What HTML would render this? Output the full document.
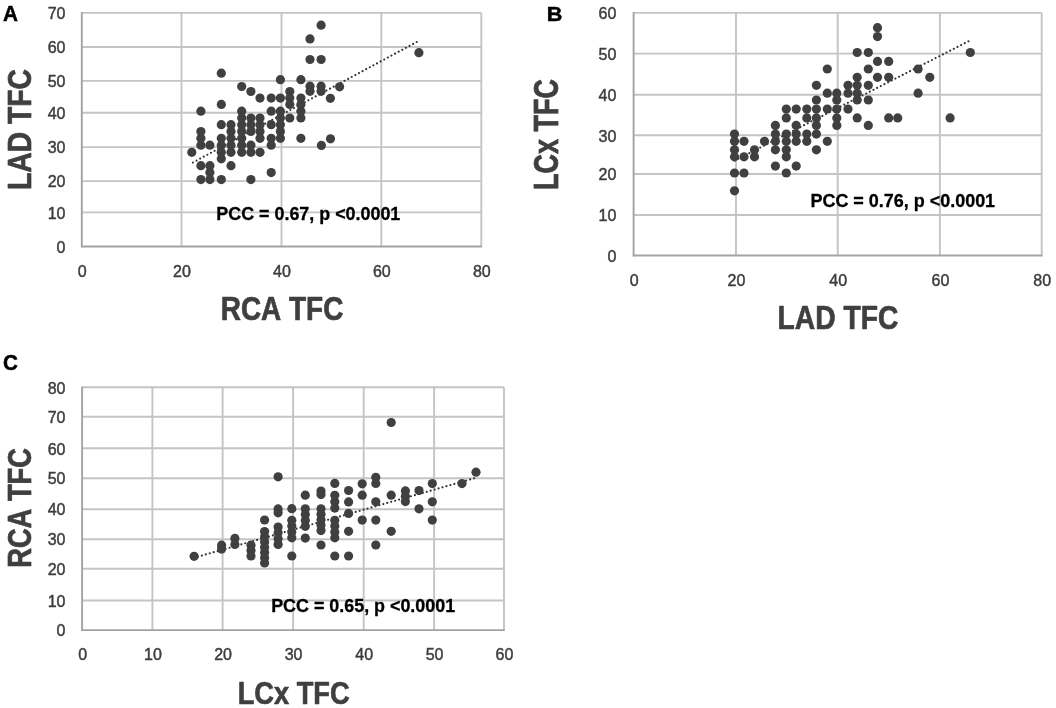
<!DOCTYPE html>
<html><head><meta charset="utf-8"><title>TFC correlations</title>
<style>html,body{margin:0;padding:0;background:#fff;width:1056px;height:708px;overflow:hidden;}
svg text{font-family:"Liberation Sans", sans-serif;font-kerning:none;}</style></head>
<body>
<svg width="1056" height="708" viewBox="0 0 1056 708" style="position:absolute;left:0;top:0;will-change:transform;">
<rect width="1056" height="708" fill="#ffffff"/>
<line x1="181.50" y1="12.90" x2="181.50" y2="246.50" stroke="#c4c4c4" stroke-width="1.9"/>
<line x1="281.50" y1="12.90" x2="281.50" y2="246.50" stroke="#c4c4c4" stroke-width="1.9"/>
<line x1="381.30" y1="12.90" x2="381.30" y2="246.50" stroke="#c4c4c4" stroke-width="1.9"/>
<line x1="481.30" y1="12.90" x2="481.30" y2="246.50" stroke="#c4c4c4" stroke-width="1.9"/>
<line x1="81.80" y1="212.40" x2="481.30" y2="212.40" stroke="#c4c4c4" stroke-width="1.9"/>
<line x1="81.80" y1="181.10" x2="481.30" y2="181.10" stroke="#c4c4c4" stroke-width="1.9"/>
<line x1="81.80" y1="147.10" x2="481.30" y2="147.10" stroke="#c4c4c4" stroke-width="1.9"/>
<line x1="81.80" y1="112.70" x2="481.30" y2="112.70" stroke="#c4c4c4" stroke-width="1.9"/>
<line x1="81.80" y1="80.90" x2="481.30" y2="80.90" stroke="#c4c4c4" stroke-width="1.9"/>
<line x1="81.80" y1="47.00" x2="481.30" y2="47.00" stroke="#c4c4c4" stroke-width="1.9"/>
<line x1="81.80" y1="12.90" x2="481.30" y2="12.90" stroke="#c4c4c4" stroke-width="1.9"/>
<line x1="81.80" y1="12.10" x2="81.80" y2="247.30" stroke="#a3a3a3" stroke-width="1.9"/>
<line x1="81.00" y1="246.50" x2="482.10" y2="246.50" stroke="#a3a3a3" stroke-width="1.9"/>
<text x="65.50" y="252.70" font-size="16" fill="#3d3d3d" stroke="#3d3d3d" stroke-width="0.45" text-anchor="end">0</text>
<text x="65.50" y="218.60" font-size="16" fill="#3d3d3d" stroke="#3d3d3d" stroke-width="0.45" text-anchor="end">10</text>
<text x="65.50" y="187.30" font-size="16" fill="#3d3d3d" stroke="#3d3d3d" stroke-width="0.45" text-anchor="end">20</text>
<text x="65.50" y="153.30" font-size="16" fill="#3d3d3d" stroke="#3d3d3d" stroke-width="0.45" text-anchor="end">30</text>
<text x="65.50" y="118.90" font-size="16" fill="#3d3d3d" stroke="#3d3d3d" stroke-width="0.45" text-anchor="end">40</text>
<text x="65.50" y="87.10" font-size="16" fill="#3d3d3d" stroke="#3d3d3d" stroke-width="0.45" text-anchor="end">50</text>
<text x="65.50" y="53.20" font-size="16" fill="#3d3d3d" stroke="#3d3d3d" stroke-width="0.45" text-anchor="end">60</text>
<text x="65.50" y="19.10" font-size="16" fill="#3d3d3d" stroke="#3d3d3d" stroke-width="0.45" text-anchor="end">70</text>
<text x="82.30" y="276.70" font-size="16" fill="#3d3d3d" stroke="#3d3d3d" stroke-width="0.45" text-anchor="middle">0</text>
<text x="182.00" y="276.70" font-size="16" fill="#3d3d3d" stroke="#3d3d3d" stroke-width="0.45" text-anchor="middle">20</text>
<text x="282.00" y="276.70" font-size="16" fill="#3d3d3d" stroke="#3d3d3d" stroke-width="0.45" text-anchor="middle">40</text>
<text x="381.80" y="276.70" font-size="16" fill="#3d3d3d" stroke="#3d3d3d" stroke-width="0.45" text-anchor="middle">60</text>
<text x="481.80" y="276.70" font-size="16" fill="#3d3d3d" stroke="#3d3d3d" stroke-width="0.45" text-anchor="middle">80</text>
<line x1="192.9" y1="162.5" x2="417.1" y2="41.8" stroke="#333333" stroke-width="2.2" stroke-linecap="round" stroke-dasharray="0 4.1"/>
<g fill="#404040"><circle cx="191.8" cy="152.3" r="4.6"/><circle cx="200.9" cy="111.2" r="4.6"/><circle cx="200.9" cy="131.5" r="4.6"/><circle cx="200.9" cy="138.3" r="4.6"/><circle cx="200.9" cy="145.2" r="4.6"/><circle cx="200.9" cy="165.7" r="4.6"/><circle cx="200.9" cy="179.6" r="4.6"/><circle cx="209.9" cy="145.2" r="4.6"/><circle cx="209.9" cy="165.7" r="4.6"/><circle cx="209.9" cy="172.6" r="4.6"/><circle cx="209.9" cy="179.6" r="4.6"/><circle cx="221.3" cy="73.2" r="4.6"/><circle cx="221.3" cy="104.4" r="4.6"/><circle cx="221.3" cy="124.7" r="4.6"/><circle cx="221.3" cy="138.3" r="4.6"/><circle cx="221.3" cy="145.2" r="4.6"/><circle cx="221.3" cy="152.3" r="4.6"/><circle cx="221.3" cy="158.8" r="4.6"/><circle cx="221.3" cy="179.6" r="4.6"/><circle cx="231.0" cy="124.7" r="4.6"/><circle cx="231.0" cy="131.5" r="4.6"/><circle cx="231.0" cy="138.3" r="4.6"/><circle cx="231.0" cy="145.2" r="4.6"/><circle cx="231.0" cy="152.3" r="4.6"/><circle cx="231.0" cy="165.7" r="4.6"/><circle cx="241.7" cy="86.5" r="4.6"/><circle cx="241.7" cy="111.2" r="4.6"/><circle cx="241.7" cy="118.0" r="4.6"/><circle cx="241.7" cy="124.7" r="4.6"/><circle cx="241.7" cy="131.5" r="4.6"/><circle cx="241.7" cy="138.3" r="4.6"/><circle cx="241.7" cy="145.2" r="4.6"/><circle cx="241.7" cy="152.3" r="4.6"/><circle cx="250.9" cy="91.5" r="4.6"/><circle cx="250.9" cy="118.0" r="4.6"/><circle cx="250.9" cy="124.7" r="4.6"/><circle cx="250.9" cy="131.5" r="4.6"/><circle cx="250.9" cy="145.2" r="4.6"/><circle cx="250.9" cy="152.3" r="4.6"/><circle cx="250.9" cy="179.6" r="4.6"/><circle cx="260.0" cy="98.1" r="4.6"/><circle cx="260.0" cy="118.0" r="4.6"/><circle cx="260.0" cy="124.7" r="4.6"/><circle cx="260.0" cy="131.5" r="4.6"/><circle cx="260.0" cy="138.3" r="4.6"/><circle cx="260.0" cy="152.3" r="4.6"/><circle cx="271.2" cy="98.1" r="4.6"/><circle cx="271.2" cy="111.2" r="4.6"/><circle cx="271.2" cy="124.7" r="4.6"/><circle cx="271.2" cy="138.3" r="4.6"/><circle cx="271.2" cy="145.2" r="4.6"/><circle cx="271.2" cy="172.6" r="4.6"/><circle cx="280.4" cy="79.7" r="4.6"/><circle cx="280.4" cy="98.1" r="4.6"/><circle cx="280.4" cy="111.2" r="4.6"/><circle cx="280.4" cy="118.0" r="4.6"/><circle cx="280.4" cy="124.7" r="4.6"/><circle cx="280.4" cy="131.5" r="4.6"/><circle cx="280.4" cy="138.3" r="4.6"/><circle cx="289.8" cy="91.5" r="4.6"/><circle cx="289.8" cy="98.1" r="4.6"/><circle cx="289.8" cy="104.4" r="4.6"/><circle cx="289.8" cy="118.0" r="4.6"/><circle cx="300.9" cy="79.7" r="4.6"/><circle cx="300.9" cy="98.1" r="4.6"/><circle cx="300.9" cy="104.4" r="4.6"/><circle cx="300.9" cy="111.2" r="4.6"/><circle cx="300.9" cy="118.0" r="4.6"/><circle cx="300.9" cy="138.3" r="4.6"/><circle cx="310.0" cy="86.2" r="4.6"/><circle cx="310.0" cy="91.3" r="4.6"/><circle cx="310.0" cy="59.5" r="4.6"/><circle cx="310.0" cy="38.9" r="4.6"/><circle cx="321.1" cy="86.2" r="4.6"/><circle cx="321.1" cy="91.3" r="4.6"/><circle cx="321.1" cy="59.5" r="4.6"/><circle cx="321.1" cy="25.2" r="4.6"/><circle cx="321.4" cy="145.4" r="4.6"/><circle cx="330.4" cy="98.3" r="4.6"/><circle cx="330.5" cy="138.8" r="4.6"/><circle cx="339.6" cy="86.8" r="4.6"/><circle cx="418.9" cy="52.7" r="4.6"/></g>
<line x1="736.00" y1="12.90" x2="736.00" y2="255.50" stroke="#c4c4c4" stroke-width="1.9"/>
<line x1="837.70" y1="12.90" x2="837.70" y2="255.50" stroke="#c4c4c4" stroke-width="1.9"/>
<line x1="939.90" y1="12.90" x2="939.90" y2="255.50" stroke="#c4c4c4" stroke-width="1.9"/>
<line x1="1041.70" y1="12.90" x2="1041.70" y2="255.50" stroke="#c4c4c4" stroke-width="1.9"/>
<line x1="633.60" y1="215.00" x2="1041.70" y2="215.00" stroke="#c4c4c4" stroke-width="1.9"/>
<line x1="633.60" y1="174.00" x2="1041.70" y2="174.00" stroke="#c4c4c4" stroke-width="1.9"/>
<line x1="633.60" y1="135.30" x2="1041.70" y2="135.30" stroke="#c4c4c4" stroke-width="1.9"/>
<line x1="633.60" y1="94.70" x2="1041.70" y2="94.70" stroke="#c4c4c4" stroke-width="1.9"/>
<line x1="633.60" y1="53.60" x2="1041.70" y2="53.60" stroke="#c4c4c4" stroke-width="1.9"/>
<line x1="633.60" y1="12.90" x2="1041.70" y2="12.90" stroke="#c4c4c4" stroke-width="1.9"/>
<line x1="633.60" y1="12.10" x2="633.60" y2="256.30" stroke="#a3a3a3" stroke-width="1.9"/>
<line x1="632.80" y1="255.50" x2="1042.50" y2="255.50" stroke="#a3a3a3" stroke-width="1.9"/>
<text x="616.30" y="261.70" font-size="16" fill="#3d3d3d" stroke="#3d3d3d" stroke-width="0.45" text-anchor="end">0</text>
<text x="616.30" y="221.20" font-size="16" fill="#3d3d3d" stroke="#3d3d3d" stroke-width="0.45" text-anchor="end">10</text>
<text x="616.30" y="180.20" font-size="16" fill="#3d3d3d" stroke="#3d3d3d" stroke-width="0.45" text-anchor="end">20</text>
<text x="616.30" y="141.50" font-size="16" fill="#3d3d3d" stroke="#3d3d3d" stroke-width="0.45" text-anchor="end">30</text>
<text x="616.30" y="100.90" font-size="16" fill="#3d3d3d" stroke="#3d3d3d" stroke-width="0.45" text-anchor="end">40</text>
<text x="616.30" y="59.80" font-size="16" fill="#3d3d3d" stroke="#3d3d3d" stroke-width="0.45" text-anchor="end">50</text>
<text x="616.30" y="19.10" font-size="16" fill="#3d3d3d" stroke="#3d3d3d" stroke-width="0.45" text-anchor="end">60</text>
<text x="634.10" y="285.60" font-size="16" fill="#3d3d3d" stroke="#3d3d3d" stroke-width="0.45" text-anchor="middle">0</text>
<text x="736.50" y="285.60" font-size="16" fill="#3d3d3d" stroke="#3d3d3d" stroke-width="0.45" text-anchor="middle">20</text>
<text x="838.20" y="285.60" font-size="16" fill="#3d3d3d" stroke="#3d3d3d" stroke-width="0.45" text-anchor="middle">40</text>
<text x="940.40" y="285.60" font-size="16" fill="#3d3d3d" stroke="#3d3d3d" stroke-width="0.45" text-anchor="middle">60</text>
<text x="1042.20" y="285.60" font-size="16" fill="#3d3d3d" stroke="#3d3d3d" stroke-width="0.45" text-anchor="middle">80</text>
<line x1="734.7" y1="160.6" x2="970.7" y2="40.2" stroke="#333333" stroke-width="2.2" stroke-linecap="round" stroke-dasharray="0 4.1"/>
<g fill="#404040"><circle cx="734.5" cy="134.1" r="4.6"/><circle cx="734.5" cy="141.3" r="4.6"/><circle cx="734.5" cy="149.8" r="4.6"/><circle cx="734.5" cy="156.8" r="4.6"/><circle cx="734.5" cy="173.0" r="4.6"/><circle cx="734.5" cy="190.8" r="4.6"/><circle cx="744.0" cy="141.3" r="4.6"/><circle cx="744.0" cy="156.8" r="4.6"/><circle cx="744.0" cy="173.0" r="4.6"/><circle cx="754.5" cy="149.8" r="4.6"/><circle cx="754.5" cy="156.8" r="4.6"/><circle cx="764.5" cy="141.3" r="4.6"/><circle cx="775.4" cy="125.4" r="4.6"/><circle cx="775.4" cy="134.1" r="4.6"/><circle cx="775.4" cy="141.3" r="4.6"/><circle cx="775.4" cy="149.8" r="4.6"/><circle cx="775.4" cy="166.1" r="4.6"/><circle cx="786.3" cy="109.1" r="4.6"/><circle cx="786.3" cy="117.9" r="4.6"/><circle cx="786.3" cy="134.1" r="4.6"/><circle cx="786.3" cy="141.3" r="4.6"/><circle cx="786.3" cy="149.8" r="4.6"/><circle cx="786.3" cy="156.8" r="4.6"/><circle cx="786.3" cy="173.0" r="4.6"/><circle cx="796.2" cy="109.1" r="4.6"/><circle cx="796.2" cy="125.4" r="4.6"/><circle cx="796.2" cy="134.1" r="4.6"/><circle cx="796.2" cy="141.3" r="4.6"/><circle cx="796.2" cy="166.1" r="4.6"/><circle cx="806.8" cy="109.1" r="4.6"/><circle cx="806.8" cy="117.9" r="4.6"/><circle cx="806.8" cy="134.1" r="4.6"/><circle cx="806.8" cy="141.3" r="4.6"/><circle cx="816.4" cy="85.3" r="4.6"/><circle cx="816.4" cy="100.0" r="4.6"/><circle cx="816.4" cy="109.1" r="4.6"/><circle cx="816.4" cy="117.9" r="4.6"/><circle cx="816.4" cy="125.4" r="4.6"/><circle cx="816.4" cy="134.1" r="4.6"/><circle cx="816.4" cy="149.8" r="4.6"/><circle cx="827.3" cy="69.0" r="4.6"/><circle cx="827.3" cy="93.2" r="4.6"/><circle cx="827.3" cy="109.1" r="4.6"/><circle cx="827.3" cy="141.3" r="4.6"/><circle cx="836.8" cy="93.2" r="4.6"/><circle cx="836.8" cy="100.0" r="4.6"/><circle cx="836.8" cy="109.1" r="4.6"/><circle cx="836.8" cy="117.9" r="4.6"/><circle cx="836.8" cy="125.4" r="4.6"/><circle cx="848.0" cy="85.3" r="4.6"/><circle cx="848.0" cy="93.2" r="4.6"/><circle cx="848.0" cy="109.1" r="4.6"/><circle cx="857.2" cy="52.5" r="4.6"/><circle cx="857.2" cy="77.3" r="4.6"/><circle cx="857.2" cy="85.3" r="4.6"/><circle cx="857.2" cy="93.2" r="4.6"/><circle cx="857.2" cy="100.0" r="4.6"/><circle cx="857.2" cy="117.9" r="4.6"/><circle cx="868.3" cy="52.5" r="4.6"/><circle cx="868.3" cy="69.0" r="4.6"/><circle cx="868.3" cy="85.3" r="4.6"/><circle cx="868.3" cy="100.0" r="4.6"/><circle cx="868.3" cy="125.4" r="4.6"/><circle cx="877.5" cy="27.7" r="4.6"/><circle cx="877.5" cy="36.6" r="4.6"/><circle cx="877.5" cy="61.4" r="4.6"/><circle cx="877.5" cy="77.3" r="4.6"/><circle cx="888.7" cy="61.4" r="4.6"/><circle cx="888.7" cy="77.3" r="4.6"/><circle cx="888.7" cy="117.9" r="4.6"/><circle cx="897.7" cy="117.9" r="4.6"/><circle cx="918.1" cy="69.0" r="4.6"/><circle cx="918.1" cy="93.2" r="4.6"/><circle cx="929.8" cy="77.3" r="4.6"/><circle cx="950.1" cy="117.9" r="4.6"/><circle cx="970.3" cy="52.5" r="4.6"/></g>
<line x1="152.40" y1="387.30" x2="152.40" y2="630.10" stroke="#c4c4c4" stroke-width="1.9"/>
<line x1="222.60" y1="387.30" x2="222.60" y2="630.10" stroke="#c4c4c4" stroke-width="1.9"/>
<line x1="293.10" y1="387.30" x2="293.10" y2="630.10" stroke="#c4c4c4" stroke-width="1.9"/>
<line x1="363.70" y1="387.30" x2="363.70" y2="630.10" stroke="#c4c4c4" stroke-width="1.9"/>
<line x1="434.10" y1="387.30" x2="434.10" y2="630.10" stroke="#c4c4c4" stroke-width="1.9"/>
<line x1="504.00" y1="387.30" x2="504.00" y2="630.10" stroke="#c4c4c4" stroke-width="1.9"/>
<line x1="82.10" y1="600.50" x2="504.00" y2="600.50" stroke="#c4c4c4" stroke-width="1.9"/>
<line x1="82.10" y1="568.80" x2="504.00" y2="568.80" stroke="#c4c4c4" stroke-width="1.9"/>
<line x1="82.10" y1="539.20" x2="504.00" y2="539.20" stroke="#c4c4c4" stroke-width="1.9"/>
<line x1="82.10" y1="509.20" x2="504.00" y2="509.20" stroke="#c4c4c4" stroke-width="1.9"/>
<line x1="82.10" y1="478.20" x2="504.00" y2="478.20" stroke="#c4c4c4" stroke-width="1.9"/>
<line x1="82.10" y1="448.30" x2="504.00" y2="448.30" stroke="#c4c4c4" stroke-width="1.9"/>
<line x1="82.10" y1="416.70" x2="504.00" y2="416.70" stroke="#c4c4c4" stroke-width="1.9"/>
<line x1="82.10" y1="387.30" x2="504.00" y2="387.30" stroke="#c4c4c4" stroke-width="1.9"/>
<line x1="82.10" y1="386.50" x2="82.10" y2="630.90" stroke="#a3a3a3" stroke-width="1.9"/>
<line x1="81.30" y1="630.10" x2="504.80" y2="630.10" stroke="#a3a3a3" stroke-width="1.9"/>
<text x="65.50" y="636.30" font-size="16" fill="#3d3d3d" stroke="#3d3d3d" stroke-width="0.45" text-anchor="end">0</text>
<text x="65.50" y="606.70" font-size="16" fill="#3d3d3d" stroke="#3d3d3d" stroke-width="0.45" text-anchor="end">10</text>
<text x="65.50" y="575.00" font-size="16" fill="#3d3d3d" stroke="#3d3d3d" stroke-width="0.45" text-anchor="end">20</text>
<text x="65.50" y="545.40" font-size="16" fill="#3d3d3d" stroke="#3d3d3d" stroke-width="0.45" text-anchor="end">30</text>
<text x="65.50" y="515.40" font-size="16" fill="#3d3d3d" stroke="#3d3d3d" stroke-width="0.45" text-anchor="end">40</text>
<text x="65.50" y="484.40" font-size="16" fill="#3d3d3d" stroke="#3d3d3d" stroke-width="0.45" text-anchor="end">50</text>
<text x="65.50" y="454.50" font-size="16" fill="#3d3d3d" stroke="#3d3d3d" stroke-width="0.45" text-anchor="end">60</text>
<text x="65.50" y="422.90" font-size="16" fill="#3d3d3d" stroke="#3d3d3d" stroke-width="0.45" text-anchor="end">70</text>
<text x="65.50" y="393.50" font-size="16" fill="#3d3d3d" stroke="#3d3d3d" stroke-width="0.45" text-anchor="end">80</text>
<text x="82.60" y="659.60" font-size="16" fill="#3d3d3d" stroke="#3d3d3d" stroke-width="0.45" text-anchor="middle">0</text>
<text x="152.90" y="659.60" font-size="16" fill="#3d3d3d" stroke="#3d3d3d" stroke-width="0.45" text-anchor="middle">10</text>
<text x="223.10" y="659.60" font-size="16" fill="#3d3d3d" stroke="#3d3d3d" stroke-width="0.45" text-anchor="middle">20</text>
<text x="293.60" y="659.60" font-size="16" fill="#3d3d3d" stroke="#3d3d3d" stroke-width="0.45" text-anchor="middle">30</text>
<text x="364.20" y="659.60" font-size="16" fill="#3d3d3d" stroke="#3d3d3d" stroke-width="0.45" text-anchor="middle">40</text>
<text x="434.60" y="659.60" font-size="16" fill="#3d3d3d" stroke="#3d3d3d" stroke-width="0.45" text-anchor="middle">50</text>
<text x="504.50" y="659.60" font-size="16" fill="#3d3d3d" stroke="#3d3d3d" stroke-width="0.45" text-anchor="middle">60</text>
<line x1="194.0" y1="557.8" x2="475.3" y2="478.0" stroke="#333333" stroke-width="2.2" stroke-linecap="round" stroke-dasharray="0 4.1"/>
<g fill="#404040"><circle cx="194.1" cy="556.3" r="4.6"/><circle cx="221.6" cy="545.2" r="4.6"/><circle cx="221.6" cy="549.1" r="4.6"/><circle cx="234.9" cy="538.4" r="4.6"/><circle cx="234.9" cy="544.5" r="4.6"/><circle cx="251.0" cy="545.2" r="4.6"/><circle cx="251.0" cy="550.5" r="4.6"/><circle cx="251.0" cy="555.9" r="4.6"/><circle cx="264.6" cy="520.0" r="4.6"/><circle cx="264.6" cy="531.6" r="4.6"/><circle cx="264.6" cy="536.8" r="4.6"/><circle cx="264.6" cy="542.0" r="4.6"/><circle cx="264.6" cy="547.2" r="4.6"/><circle cx="264.6" cy="552.5" r="4.6"/><circle cx="264.6" cy="557.7" r="4.6"/><circle cx="264.6" cy="562.9" r="4.6"/><circle cx="278.1" cy="476.8" r="4.6"/><circle cx="278.1" cy="508.9" r="4.6"/><circle cx="278.1" cy="512.8" r="4.6"/><circle cx="278.1" cy="527.0" r="4.6"/><circle cx="278.1" cy="532.8" r="4.6"/><circle cx="278.1" cy="538.7" r="4.6"/><circle cx="278.1" cy="544.5" r="4.6"/><circle cx="291.8" cy="508.7" r="4.6"/><circle cx="291.8" cy="520.3" r="4.6"/><circle cx="291.8" cy="526.1" r="4.6"/><circle cx="291.8" cy="532.0" r="4.6"/><circle cx="291.8" cy="537.8" r="4.6"/><circle cx="291.8" cy="556.0" r="4.6"/><circle cx="305.3" cy="495.2" r="4.6"/><circle cx="305.3" cy="508.8" r="4.6"/><circle cx="305.3" cy="514.6" r="4.6"/><circle cx="305.3" cy="520.5" r="4.6"/><circle cx="305.3" cy="526.3" r="4.6"/><circle cx="305.3" cy="538.1" r="4.6"/><circle cx="321.0" cy="491.0" r="4.6"/><circle cx="321.0" cy="494.6" r="4.6"/><circle cx="321.0" cy="508.8" r="4.6"/><circle cx="321.0" cy="514.2" r="4.6"/><circle cx="321.0" cy="519.7" r="4.6"/><circle cx="321.0" cy="525.1" r="4.6"/><circle cx="321.0" cy="530.6" r="4.6"/><circle cx="321.0" cy="545.0" r="4.6"/><circle cx="334.8" cy="483.4" r="4.6"/><circle cx="334.8" cy="495.3" r="4.6"/><circle cx="334.8" cy="501.7" r="4.6"/><circle cx="334.8" cy="508.1" r="4.6"/><circle cx="334.8" cy="520.3" r="4.6"/><circle cx="334.8" cy="526.1" r="4.6"/><circle cx="334.8" cy="532.0" r="4.6"/><circle cx="334.8" cy="537.8" r="4.6"/><circle cx="334.8" cy="556.0" r="4.6"/><circle cx="348.6" cy="490.5" r="4.6"/><circle cx="348.6" cy="501.9" r="4.6"/><circle cx="348.6" cy="513.4" r="4.6"/><circle cx="348.6" cy="531.3" r="4.6"/><circle cx="348.6" cy="556.0" r="4.6"/><circle cx="362.2" cy="483.8" r="4.6"/><circle cx="362.2" cy="495.2" r="4.6"/><circle cx="362.2" cy="520.1" r="4.6"/><circle cx="375.8" cy="477.3" r="4.6"/><circle cx="375.8" cy="483.4" r="4.6"/><circle cx="375.8" cy="501.8" r="4.6"/><circle cx="375.8" cy="520.1" r="4.6"/><circle cx="375.8" cy="545.0" r="4.6"/><circle cx="391.2" cy="422.5" r="4.6"/><circle cx="391.2" cy="495.2" r="4.6"/><circle cx="391.2" cy="531.3" r="4.6"/><circle cx="405.4" cy="490.9" r="4.6"/><circle cx="405.4" cy="496.2" r="4.6"/><circle cx="405.4" cy="501.6" r="4.6"/><circle cx="419.0" cy="490.5" r="4.6"/><circle cx="419.0" cy="508.8" r="4.6"/><circle cx="432.3" cy="483.6" r="4.6"/><circle cx="432.3" cy="501.8" r="4.6"/><circle cx="432.3" cy="520.1" r="4.6"/><circle cx="462.0" cy="483.6" r="4.6"/><circle cx="476.0" cy="472.2" r="4.6"/></g>
<text transform="translate(2.93,20.75) scale(0.9631,1)" font-size="21.51" font-weight="bold" fill="#000" stroke="#000" stroke-width="0.519" stroke-linejoin="round" >A</text>
<text transform="translate(546.80,20.75) scale(1.0637,1)" font-size="20.35" font-weight="bold" fill="#000" stroke="#000" stroke-width="0.470" stroke-linejoin="round" >B</text>
<text transform="translate(3.00,369.55) scale(0.9534,1)" font-size="21.66" font-weight="bold" fill="#000" stroke="#000" stroke-width="0.524" stroke-linejoin="round" >C</text>
<text transform="translate(216.35,220.45) scale(1.0013,1)" font-size="17.88" font-weight="bold" fill="#000" stroke="#000" stroke-width="0.300" stroke-linejoin="round" >PCC = 0.67, p &lt;0.0001</text>
<text transform="translate(810.45,206.75) scale(1.0217,1)" font-size="17.59" font-weight="bold" fill="#000" stroke="#000" stroke-width="0.294" stroke-linejoin="round" >PCC = 0.76, p &lt;0.0001</text>
<text transform="translate(271.15,611.75) scale(1.0178,1)" font-size="17.59" font-weight="bold" fill="#000" stroke="#000" stroke-width="0.295" stroke-linejoin="round" >PCC = 0.65, p &lt;0.0001</text>
<text transform="translate(220.73,319.90) scale(0.8622,1)" font-size="32.41" font-weight="bold" fill="#3f3f3f" stroke="#3f3f3f" stroke-width="0.696" stroke-linejoin="round" >RCA TFC</text>
<text transform="translate(777.61,329.10) scale(0.8711,1)" font-size="32.41" font-weight="bold" fill="#3f3f3f" stroke="#3f3f3f" stroke-width="0.689" stroke-linejoin="round" >LAD TFC</text>
<text transform="translate(237.68,703.60) scale(0.8441,1)" font-size="32.27" font-weight="bold" fill="#3f3f3f" stroke="#3f3f3f" stroke-width="0.711" stroke-linejoin="round" >LCx TFC</text>
<text transform="translate(31.00,190.09) rotate(-90) scale(0.8656,1)" font-size="32.70" font-weight="bold" fill="#3f3f3f" stroke="#3f3f3f" stroke-width="0.693" stroke-linejoin="round">LAD TFC</text>
<text transform="translate(558.30,189.90) rotate(-90) scale(0.7827,1)" font-size="34.45" font-weight="bold" fill="#3f3f3f" stroke="#3f3f3f" stroke-width="0.767" stroke-linejoin="round">LCx TFC</text>
<text transform="translate(31.00,567.83) rotate(-90) scale(0.8353,1)" font-size="32.70" font-weight="bold" fill="#3f3f3f" stroke="#3f3f3f" stroke-width="0.718" stroke-linejoin="round">RCA TFC</text>
</svg>
</body></html>
